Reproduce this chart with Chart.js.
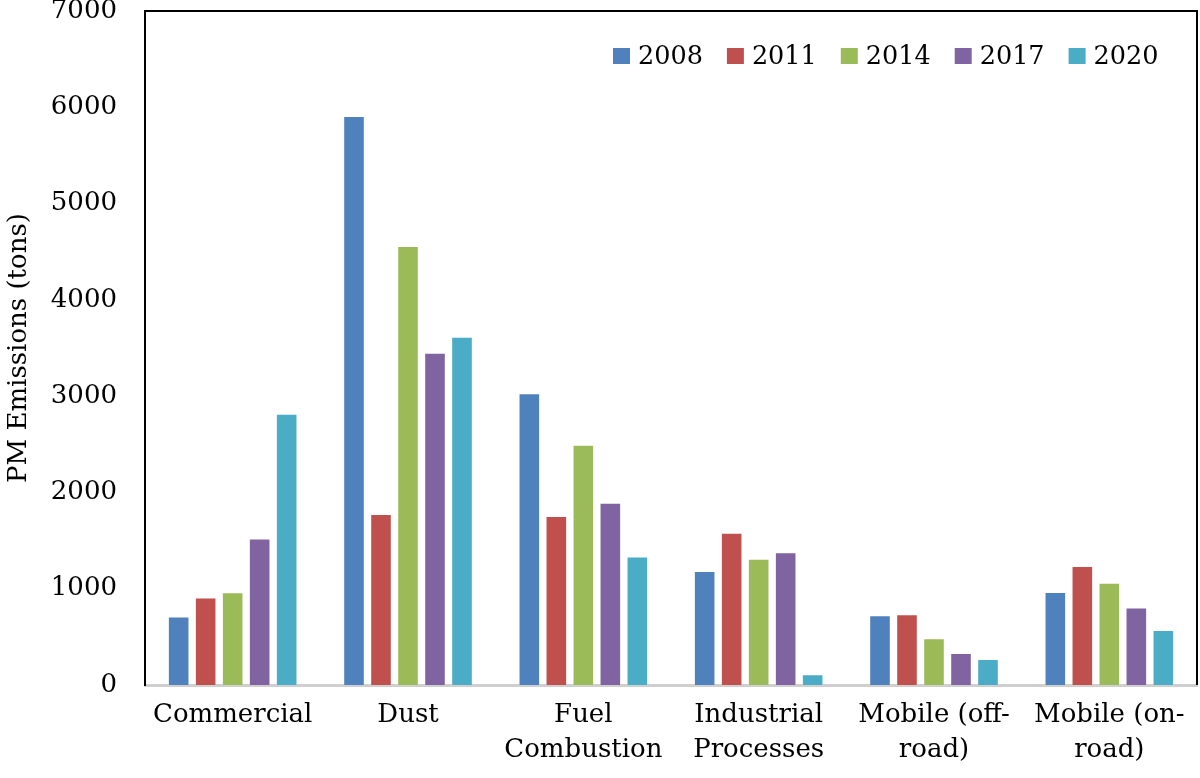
<!DOCTYPE html>
<html>
<head>
<meta charset="utf-8">
<script src="https://cdn.jsdelivr.net/npm/chart.js@4.4.0/dist/chart.umd.min.js"></script>
<style>
  html, body { margin: 0; padding: 0; background: #ffffff; }
  #wrap { width: 1200px; height: 778px; position: relative; }
</style>
</head>
<body>
<div id="wrap"><canvas id="c" width="1200" height="778"></canvas></div>
<script>
const categories = [
  ['Commercial'],
  ['Dust'],
  ['Fuel', 'Combustion'],
  ['Industrial', 'Processes'],
  ['Mobile (off-', 'road)'],
  ['Mobile (on-', 'road)']
];
const seriesNames = ['2008', '2011', '2014', '2017', '2020'];
const values2008 = [712, 5910, 3030, 1185, 725, 965];
const values2011 = [908, 1775, 1755, 1580, 735, 1235];
const values2014 = [963, 4560, 2495, 1310, 485, 1062];
const values2017 = [1522, 3450, 1893, 1380, 333, 805];
const values2020 = [2818, 3617, 1335, 112, 271, 572];
const yTicks = [0, 1000, 2000, 3000, 4000, 5000, 6000, 7000];
const colors = ['#4F81BD', '#C0504D', '#9BBB59', '#8064A2', '#4BACC6'];

const allValues = [values2008, values2011, values2014, values2017, values2020];
const FONT = "'DejaVu Serif', 'Liberation Serif', serif";

const framePlugin = {
  id: 'frame',
  afterDatasetsDraw(chart) {
    const { ctx, chartArea } = chart;
    ctx.save();
    ctx.strokeStyle = '#000000';
    ctx.lineWidth = 2;
    ctx.beginPath();
    ctx.moveTo(chartArea.left, chartArea.top);
    ctx.lineTo(chartArea.right, chartArea.top);
    ctx.lineTo(chartArea.right, chartArea.bottom);
    ctx.stroke();
    ctx.restore();
  }
};

const legendPlugin = {
  id: 'customLegend',
  afterDraw(chart) {
    const { ctx } = chart;
    const startX = 613, y = 56, step = 113.9, boxW = 17, boxH = 16;
    ctx.save();
    ctx.font = "25.5px " + FONT;
    ctx.textBaseline = 'middle';
    ctx.textAlign = 'left';
    chart.data.datasets.forEach((ds, i) => {
      const x = startX + i * step;
      ctx.fillStyle = ds.backgroundColor;
      ctx.fillRect(x, y - boxH / 2, boxW, boxH);
      ctx.fillStyle = '#000000';
      ctx.fillText(ds.label, x + 25, y + 1);
    });
    ctx.restore();
  }
};

new Chart(document.getElementById('c'), {
  type: 'bar',
  data: {
    labels: categories,
    datasets: seriesNames.map((name, i) => ({
      label: name,
      data: allValues[i],
      backgroundColor: colors[i],
      borderColor: 'rgba(255,255,255,0.35)',
      borderWidth: 1,
      barPercentage: 0.8,
      categoryPercentage: 0.77
    }))
  },
  options: {
    responsive: false,
    animation: false,
    layout: { padding: { top: 11, right: 3, left: 0, bottom: 0 } },
    plugins: {
      legend: { display: false },
      tooltip: { enabled: false }
    },
    scales: {
      x: {
        grid: { display: false, drawTicks: false },
        border: { display: true, color: '#cfcfcf', width: 3 },
        ticks: {
          color: '#000000',
          font: { family: FONT, size: 26, lineHeight: 1.35 },
          padding: 13,
          maxRotation: 0,
          autoSkip: false
        },
        afterFit(scale) {
          scale.height = 93;
          scale.paddingLeft = 0;
          scale.paddingRight = 0;
        }
      },
      y: {
        min: 0,
        max: 7000,
        afterBuildTicks(scale) {
          scale.ticks = yTicks.map(v => ({ value: v }));
        },
        grid: { display: false, drawTicks: false },
        border: { display: true, color: '#000000', width: 2 },
        ticks: {
          color: '#000000',
          font: { family: FONT, size: 26 },
          padding: 28,
          callback: (v) => String(v)
        },
        title: {
          display: true,
          text: 'PM Emissions (tons)',
          color: '#000000',
          font: { family: FONT, size: 26 },
          padding: { top: 4, bottom: 4 }
        },
        afterFit(scale) {
          scale.width = 145;
          scale.paddingTop = 0;
          scale.paddingBottom = 0;
        }
      }
    }
  },
  plugins: [framePlugin, legendPlugin]
});
</script>
</body>
</html>
